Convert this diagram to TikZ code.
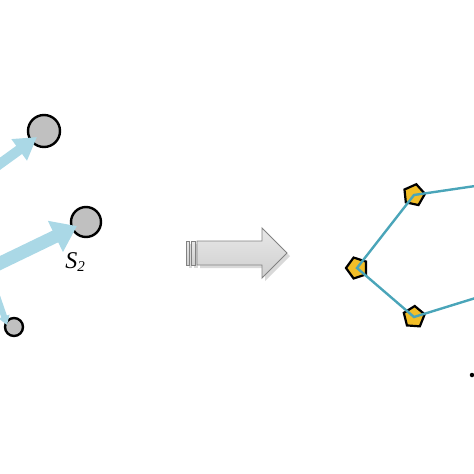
\documentclass[tikz,border=0pt]{standalone}
\usepackage{fontspec}
\setmainfont{Liberation Serif}
\usetikzlibrary{arrows.meta, shapes.geometric, shadows}
\definecolor{cellgray}{RGB}{192,192,192}
\definecolor{flowblue}{RGB}{170,216,230}
\definecolor{linkteal}{RGB}{74,165,185}
\definecolor{sitegold}{RGB}{242,190,40}
\definecolor{edgegray}{RGB}{130,130,130}

\begin{document}
\begin{tikzpicture}[x=1pt, y=-1pt,
    cell/.style={circle, draw=black, line width=2.4pt, fill=cellgray, inner sep=0pt},
    flow/.style={draw=flowblue, line cap=butt},
    site/.style={regular polygon, regular polygon sides=5, draw=black, line width=2.2pt, fill=sitegold, minimum size=22pt, inner sep=0pt},
    link/.style={draw=linkteal, line width=2.4pt},
    blockarrow/.style={draw=edgegray, line width=0.9pt, top color=gray!18, bottom color=gray!38,
        drop shadow={shadow xshift=3pt, shadow yshift=-3pt, opacity=0.3}}]
    \useasboundingbox (0,0) rectangle (474,474);
    \clip (0,0) rectangle (474,474);

    \node[cell, minimum size=32pt] (s1) at (44,131) {};
    \node[cell, minimum size=30pt] (s2) at (86,222) {};
    \node[cell, minimum size=18pt] (s3) at (14,327) {};

    \coordinate (t1) at (-10,171);
    \coordinate (t2) at (-10,268);
    \coordinate (t3) at (-3,296);

    \draw[flow, line width=10pt, -{Triangle[length=22pt, width=25pt]}] (t1) -- ([shift={(-7,6)}]s1.center);
    \draw[flow, line width=13pt, -{Triangle[length=24pt, width=33pt]}] (t2) -- ([shift={(-9,4)}]s2.center);
    \draw[flow, line width=6pt, -{Triangle[length=9pt, width=11pt]}] (t3) -- ([shift={(-7,-2)}]s3.center);

    \node[font=\fontsize{24}{24}\selectfont] (lab2) at (75,262) {\textit{S}\raisebox{-0.35ex}{\fontsize{15}{15}\selectfont\textit{2}}};

    % transformation arrow
    \path[blockarrow] (186,241) rectangle (189,265);
    \path[blockarrow] (191,241) rectangle (195,265);
    \path[blockarrow] (197,241) -- (262,241) -- (262,228) -- (287,253) -- (262,278) -- (262,265) -- (197,265) -- cycle;

    \node[site, rotate=-12] (p1) at (414,195) {};
    \node[site, rotate=18] (p2) at (357,268) {};
    \node[site, rotate=-4] (p3) at (414,317) {};

    \coordinate (e1) at (482,185);
    \coordinate (e2) at (482,296);

    \draw[link] (e1) -- (p1.center) -- (p2.center) -- (p3.center) -- (e2);

    \node[circle, fill=black, inner sep=0pt, minimum size=4.5pt] (d1) at (472,375) {};
\end{tikzpicture}
\end{document}
